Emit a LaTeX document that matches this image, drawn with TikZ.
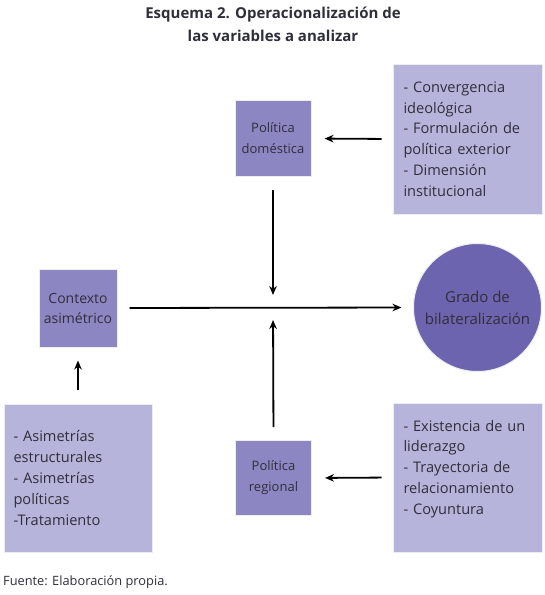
\documentclass[tikz,border=0pt]{standalone}
\usepackage{fontspec}
\setmainfont{Open Sans}
\usetikzlibrary{arrows.meta}
\definecolor{midp}{HTML}{8C86C3}
\definecolor{lightp}{HTML}{B7B4DB}
\definecolor{darkp}{HTML}{6C64AE}
\definecolor{txt}{HTML}{2F2F3A}
\begin{document}
\begin{tikzpicture}[x=1pt,y=-1pt,
  varbox/.style={fill=midp, draw=black!7, line width=1pt, minimum width=76pt, minimum height=76pt, inner sep=0pt, align=center, text=txt, font=\fontsize{13}{21}\selectfont},
  listbox/.style={fill=lightp, draw=black!7, line width=1pt, inner sep=0pt, align=left, text=txt, font=\fontsize{14.6}{20.8}\selectfont},
  conn/.style={line width=1.8pt, -{Stealth[length=9pt,width=7.5pt]}}]
\useasboundingbox[fill=white] (0,0) rectangle (545,595);
\node[font=\bfseries\fontsize{15}{22.4}\selectfont, text=txt, align=center] (title) at (273,24.5) {Esquema 2. Operacionalización de\\las variables a analizar};
\node[varbox] (dom) at (273,138.5) {Política\\doméstica};
\node[varbox, minimum height=75pt] (reg) at (273.5,478) {Política\\regional};
\node[varbox, minimum width=78pt, minimum height=78pt, font=\fontsize{14}{20}\selectfont] (ctx) at (78,308) {Contexto\\asimétrico};
\node[circle, fill=darkp, draw=black!7, line width=1pt, minimum size=128pt, inner sep=0pt, align=center, text=txt, font=\fontsize{15}{22}\selectfont] (grado) at (477.5,307.5) {Grado de\\bilateralización};
\node[listbox, minimum width=149pt, minimum height=150pt, text width=128pt] (tr) at (467.5,139) {- Convergencia\\ideológica\\- Formulación de\\política exterior\\- Dimensión\\institucional};
\node[listbox, minimum width=149pt, minimum height=149pt, text width=128pt] (br) at (467.5,477.5) {- Existencia de un\\liderazgo\\- Trayectoria de\\relacionamiento\\- Coyuntura\\\mbox{}};
\node[listbox, minimum width=148pt, minimum height=148pt, text width=129pt] (bl) at (78,478) {- Asimetrías\\estructurales\\- Asimetrías\\políticas\\-Tratamiento};
\node[anchor=west, font=\fontsize{12.8}{15}\selectfont, text=txt, inner sep=0pt] (src) at (3,582) {Fuente: Elaboración propia.};
\coordinate (hub) at (273,308);
\draw[conn, shorten <=11pt, shorten >=13pt] (tr.west) -- (dom.east);
\draw[conn, shorten <=11pt, shorten >=13pt] (br.west) -- (reg.east);
\draw[conn, shorten <=13pt, shorten >=13pt] (dom.south) -- (hub);
\draw[conn, shorten <=13pt, shorten >=12pt] (reg.north) -- (hub);
\draw[conn, shorten <=12pt, shorten >=11.5pt] (ctx.east) -- (grado.west);
\draw[conn, shorten <=14pt, shorten >=13pt] (bl.north) -- (ctx.south);
\end{tikzpicture}
\end{document}
